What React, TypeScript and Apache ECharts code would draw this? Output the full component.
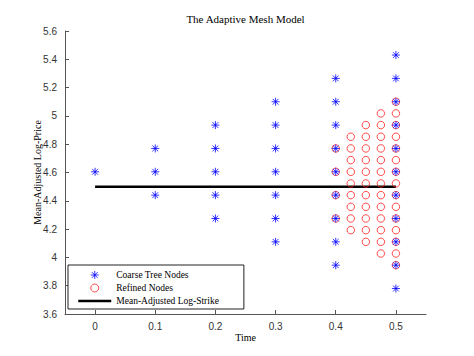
import React, { useEffect, useRef } from "react";
import * as echarts from "echarts";

const titleText = "The Adaptive Mesh Model";
const xName = "Time";
const yName = "Mean-Adjusted Log-Price";
const coarseName = "Coarse Tree Nodes";
const refinedName = "Refined Nodes";
const strikeName = "Mean-Adjusted Log-Strike";

const xTicks = [0, 0.1, 0.2, 0.3, 0.4, 0.5];

// Coarse tree nodes, one list per time step
const coarseTimes = [0, 0.1, 0.2, 0.3, 0.4, 0.5];
const coarseT0 = [4.605];
const coarseT1 = [4.44, 4.605, 4.77];
const coarseT2 = [4.275, 4.44, 4.605, 4.77, 4.935];
const coarseT3 = [4.11, 4.275, 4.44, 4.605, 4.77, 4.935, 5.1];
const coarseT4 = [3.945, 4.11, 4.275, 4.44, 4.605, 4.77, 4.935, 5.1, 5.265];
const coarseT5 = [3.78, 3.945, 4.11, 4.275, 4.44, 4.605, 4.77, 4.935, 5.1, 5.265, 5.43];
const coarseCols = [coarseT0, coarseT1, coarseT2, coarseT3, coarseT4, coarseT5];

// Refined nodes, one list per time step
const refinedTimes = [0.4, 0.425, 0.45, 0.475, 0.5];
const refinedA = [4.275, 4.44, 4.605, 4.77];
const refinedB = [4.1925, 4.275, 4.3575, 4.44, 4.5225, 4.605, 4.6875, 4.77, 4.8525];
const refinedC = [4.11, 4.1925, 4.275, 4.3575, 4.44, 4.5225, 4.605, 4.6875, 4.77, 4.8525, 4.935];
const refinedD = [4.0275, 4.11, 4.1925, 4.275, 4.3575, 4.44, 4.5225, 4.605, 4.6875, 4.77, 4.8525, 4.935, 5.0175];
const refinedE = [3.945, 4.0275, 4.11, 4.1925, 4.275, 4.3575, 4.44, 4.5225, 4.605, 4.6875, 4.77, 4.8525, 4.935, 5.0175, 5.1];
const refinedCols = [refinedA, refinedB, refinedC, refinedD, refinedE];

// Strike line
const strikeTimes = [0, 0.5];
const strikeValues = [4.5, 4.5];

const starPath = "path://M0,-5L0,5M-5,0L5,0M-3.6,-3.6L3.6,3.6M-3.6,3.6L3.6,-3.6";

export default function App() {
  const ref = useRef<HTMLDivElement>(null);
  useEffect(() => {
    if (!ref.current) return;
    const chart = echarts.init(ref.current, null, { renderer: "svg" });
    const coarseData: number[][] = [];
    coarseCols.forEach((col, i) => col.forEach((v) => coarseData.push([coarseTimes[i], v])));
    const refinedData: number[][] = [];
    refinedCols.forEach((col, i) => col.forEach((v) => refinedData.push([refinedTimes[i], v])));
    const strikeData = strikeTimes.map((t, i) => [t, strikeValues[i]]);

    const serif = "'Liberation Serif', 'Times New Roman', serif";
    const sans = "'Liberation Sans', Arial, sans-serif";
    const axisColor = "#555";

    chart.setOption({
      animation: false,
      backgroundColor: "#fff",
      grid: { left: 65, right: 48, top: 31, bottom: 42 },
      graphic: [
        {
          type: "text",
          x: 245.5,
          y: 19,
          style: {
            text: titleText,
            fontFamily: serif,
            fontSize: 11,
            fill: "#000",
            align: "center",
            verticalAlign: "middle",
          },
        },
      ],
      legend: {
        orient: "vertical",
        left: 68,
        top: 265,
        padding: [4, 25, 2, 9],
        itemWidth: 33,
        itemHeight: 8,
        itemGap: 1,
        backgroundColor: "#fff",
        borderColor: "#222",
        borderWidth: 1,
        borderRadius: 0,
        symbolKeepAspect: true,
        textStyle: { fontFamily: serif, fontSize: 9.5, color: "#000", lineHeight: 12 },
        data: [
          {
            name: coarseName,
            icon: starPath,
            itemStyle: { color: "rgba(0,0,0,0)", borderColor: "#0000ff", borderWidth: 1 },
          },
          {
            name: refinedName,
            icon: "circle",
            itemStyle: { color: "rgba(0,0,0,0)", borderColor: "#ff2020", borderWidth: 1 },
          },
          {
            name: strikeName,
            itemStyle: { color: "rgba(0,0,0,0)", borderColor: "rgba(0,0,0,0)", borderWidth: 0 },
            lineStyle: { color: "#000", width: 2.5 },
          },
        ],
      },
      xAxis: {
        type: "value",
        min: -0.05,
        max: 0.55,
        name: xName,
        nameLocation: "middle",
        nameGap: 18,
        nameMoveOverlap: false,
        nameTextStyle: { fontFamily: serif, fontSize: 10, color: "#000" },
        axisLine: { show: true, onZero: false, lineStyle: { color: axisColor, width: 1 } },
        axisTick: { show: true, inside: true, length: 4, customValues: xTicks, lineStyle: { color: axisColor } },
        axisLabel: { customValues: xTicks, margin: 7, fontFamily: sans, fontSize: 10, color: "#333" },
        splitLine: { show: false },
      },
      yAxis: {
        type: "value",
        min: 3.6,
        max: 5.6,
        interval: 0.2,
        name: yName,
        nameLocation: "middle",
        nameGap: 23,
        nameMoveOverlap: false,
        nameTextStyle: { fontFamily: serif, fontSize: 10, color: "#000" },
        axisLine: { show: true, onZero: false, lineStyle: { color: axisColor, width: 1 } },
        axisTick: { show: true, inside: true, length: 4, lineStyle: { color: axisColor } },
        axisLabel: { margin: 8, fontFamily: sans, fontSize: 10, color: "#333" },
        splitLine: { show: false },
      },
      series: [
        {
          name: strikeName,
          type: "line",
          data: strikeData,
          symbol: "none",
          lineStyle: { color: "#000", width: 2.5 },
          itemStyle: { color: "#000" },
          z: 2,
        },
        {
          name: refinedName,
          type: "scatter",
          data: refinedData,
          symbol: "circle",
          symbolSize: 7.5,
          itemStyle: { color: "rgba(0,0,0,0)", borderColor: "#ff2020", borderWidth: 1 },
          z: 3,
        },
        {
          name: coarseName,
          type: "scatter",
          data: coarseData,
          symbol: starPath,
          symbolSize: 8,
          itemStyle: { color: "rgba(0,0,0,0)", borderColor: "#0000ff", borderWidth: 1 },
          z: 4,
        },
      ],
    });
    return () => chart.dispose();
  }, []);
  return (
    <div
      ref={ref}
      style={{ position: "absolute", left: 0, top: 0, width: 474, height: 356 }}
    />
  );
}
